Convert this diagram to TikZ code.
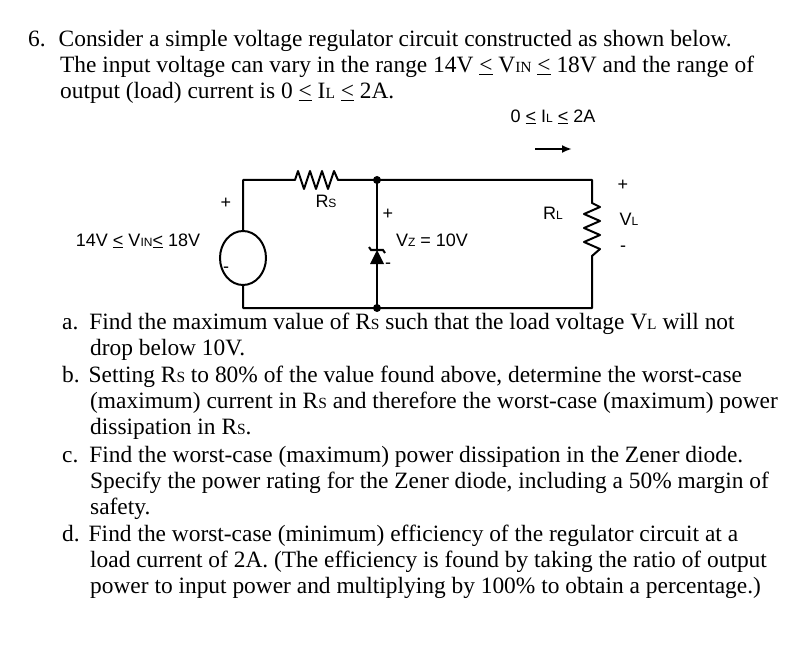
\documentclass[tikz,border=0pt]{standalone}
\usepackage{fontspec}
\usetikzlibrary{shapes.geometric,arrows.meta}
\setmainfont{Liberation Serif}
\newfontfamily\sansf{Liberation Sans}
\newcommand{\lo}[1]{{\fontsize{15.5}{15.5}\selectfont #1}}
\newcommand{\slo}[1]{{\fontsize{12}{12}\selectfont #1}}
\newcommand{\leu}{\underline{<}}
\begin{document}
\begin{tikzpicture}[x=1pt,y=-1pt,
  txt/.style={anchor=base west,inner sep=0pt,font=\fontsize{23.4}{26}\selectfont},
  lab/.style={inner sep=1pt,font=\sansf\fontsize{18}{20}\selectfont},
  wire/.style={line width=2pt},
  dot/.style={circle,fill,inner sep=0pt,minimum size=8pt}]
\useasboundingbox (0,0) rectangle (796,666);
% text
\node[txt] (t1) at (28,47) {6.\hspace{13pt}Consider a simple voltage regulator circuit constructed as shown below.};
\node[txt] (t2) at (60,73) {The input voltage can vary in the range 14V \leu{} V\lo{IN} \leu{} 18V and the range of};
\node[txt] (t3) at (60,99) {output (load) current is 0 \leu{} I\lo{L} \leu{} 2A.};
\node[txt] (a1) at (62,329) {a.\hspace{11pt}Find the maximum value of R\lo{S} such that the load voltage V\lo{L} will not};
\node[txt] (a2) at (90,355) {drop below 10V.};
\node[txt] (b1) at (62,382) {b.\hspace{9pt}Setting R\lo{S} to 80\% of the value found above, determine the worst-case};
\node[txt] (b2) at (90,408) {(maximum) current in R\lo{S} and therefore the worst-case (maximum) power};
\node[txt] (b3) at (90,434) {dissipation in R\lo{S}.};
\node[txt] (c1) at (62,462) {c.\hspace{11pt}Find the worst-case (maximum) power dissipation in the Zener diode.};
\node[txt] (c2) at (90,488) {Specify the power rating for the Zener diode, including a 50\% margin of};
\node[txt] (c3) at (90,514) {safety.};
\node[txt] (d1) at (62,541) {d.\hspace{9pt}Find the worst-case (minimum) efficiency of the regulator circuit at a};
\node[txt] (d2) at (90,567) {load current of 2A.\ (The efficiency is found by taking the ratio of output};
\node[txt] (d3) at (90,593) {power to input power and multiplying by 100\% to obtain a percentage.)};
% circuit
\coordinate (tl) at (243,180);
\coordinate (bl) at (243,308);
\coordinate (tr) at (592,180);
\coordinate (br) at (592,308);
\coordinate (dk) at (377,250);
\coordinate (da) at (377,264);
\node[dot] (jt) at (377,180) {};
\node[dot] (jb) at (377,308) {};
\draw[wire] (jt.center) -- (dk);
\draw[wire] (da) -- (jb.center);
\node[draw,ellipse,line width=2pt,minimum width=46pt,minimum height=54pt,inner sep=0pt] (src) at (243,258) {};
\draw[wire,line join=round] (src.north) -- (tl) -- (295,180)
  -- (298,171) -- (304,189) -- (310,171) -- (316,189) -- (322,171) -- (328,189) -- (334,171) -- (338,180)
  -- (341,180) -- (jt.center) -- (tr) -- (592,203)
  -- (600,207) -- (584,214) -- (600,221) -- (584,228) -- (600,235) -- (584,242) -- (600,249) -- (592,256)
  -- (br) -- (jb.center) -- (bl) -- (src.south);
\fill (370,264) -- (377,250) -- (384,264) -- cycle;
\draw[wire] (369,247) -- (371,250) -- (383,250) -- (385,253);
\node[lab] (rs) at (326,201) {R\slo{S}};
\node[lab] (rl) at (553,213) {R\slo{L}};
\node[lab] (vl) at (629,219) {V\slo{L}};
\node[lab] (vlp) at (623,185) {+};
\node[lab] (vlm) at (623,249) {-};
\node[lab] (vz) at (432,240) {V\slo{Z} = 10V};
\node[lab] (vzp) at (388,214) {+};
\node[lab] (vzm) at (388,266) {-};
\node[lab] (sp) at (226,203) {+};
\node[lab] (sm) at (226,270) {-};
\node[lab] (vin) at (138,241) {14V \leu{} V\slo{IN}\leu{} 18V};
\node[lab] (il) at (553,117) {0 \leu{} I\slo{L} \leu{} 2A};
\coordinate (ia) at (535,149);
\coordinate (ib) at (572,149);
\draw[wire,-{Latex[length=10pt,width=8pt]}] (ia) -- (ib);
\end{tikzpicture}
\end{document}
